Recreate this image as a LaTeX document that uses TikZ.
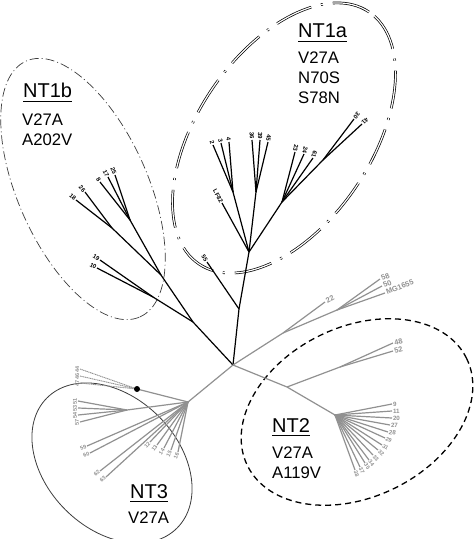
\documentclass[tikz,border=0pt]{standalone}
\usepackage{fontspec}
\setmainfont{Liberation Sans}
\usetikzlibrary{positioning}
\definecolor{treegray}{RGB}{145,145,145}
\definecolor{ringgray}{RGB}{60,60,60}
\tikzset{
	blackbranch/.style={line width=1.2pt, black},
	graybranch/.style={line width=1.2pt, treegray},
	tinybranch/.style={line width=0.9pt, treegray, dash pattern=on 1.2pt off 0.6pt},
	blackleaf/.style={font=\bfseries\fontsize{6}{6}\selectfont, inner sep=0.4pt},
	grayleaf/.style={font=\bfseries\fontsize{5.5}{5.5}\selectfont, inner sep=0.4pt, text=treegray},
	fanleaf/.style={font=\bfseries\fontsize{6.2}{6.2}\selectfont, inner sep=0.4pt, text=treegray},
	refleaf/.style={font=\bfseries\fontsize{7.5}{7.5}\selectfont, inner sep=1pt, text=treegray},
	typename/.style={font=\fontsize{20}{20}\selectfont, inner sep=0pt, anchor=base west},
	mutation/.style={font=\fontsize{16.7}{16.7}\selectfont, inner sep=0pt, anchor=base west},
	underline/.style={line width=1.3pt},
}
\begin{document}
\begin{tikzpicture}[x=1pt,y=-1pt]
\useasboundingbox (0,0) rectangle (474,539);

%Cluster rings
\draw[ringgray, line width=0.7pt, dash pattern=on 9pt off 3pt on 1pt off 3pt,
	rotate around={-66:(83,189)}] (83,189) ellipse [x radius=140pt, y radius=65pt];
\draw[black, line width=0.7pt, double, double distance=1.2pt,
	dash pattern=on 38pt off 10pt on 2pt off 10pt,
	rotate around={56:(284,138)}] (284,138) ellipse [x radius=152pt, y radius=87pt];
\draw[black, line width=1.3pt, dash pattern=on 6pt off 4pt,
	rotate around={26:(357,412)}] (357,412) ellipse [x radius=122pt, y radius=85pt];
\draw[ringgray, line width=0.8pt,
	rotate around={-45:(112,463)}] (112,463) ellipse [x radius=92pt, y radius=66pt];

%NT1 trunk
\coordinate (root) at (233,365);
\coordinate (nt1stem) at (239,309);
\coordinate (nt1ahub) at (249,252);
\coordinate (l55) at (207,262);
\draw[blackbranch] (root) -- (nt1stem) -- (nt1ahub);
\draw[blackbranch] (nt1stem) -- (l55) node[blackleaf,anchor=east,rotate=-56]{55};

%NT1a leaves
\coordinate (lLF) at (222,203);
\draw[blackbranch] (nt1ahub) -- (lLF) node[blackleaf,anchor=east,rotate=-61]{LF82};
\coordinate (ja) at (233,192);
\coordinate (l2) at (213,145);
\coordinate (l3) at (221,143);
\coordinate (l4) at (229,142);
\draw[blackbranch] (nt1ahub) -- (ja);
\draw[blackbranch] (ja) -- (l2) node[blackleaf,anchor=east,rotate=-72]{2};
\draw[blackbranch] (ja) -- (l3) node[blackleaf,anchor=east,rotate=-78]{3};
\draw[blackbranch] (ja) -- (l4) node[blackleaf,anchor=east,rotate=-84]{4};
\coordinate (jb) at (256,192);
\coordinate (l36) at (252,140);
\coordinate (l39) at (260,140);
\coordinate (l45) at (268,142);
\draw[blackbranch] (nt1ahub) -- (jb);
\draw[blackbranch] (jb) -- (l36) node[blackleaf,anchor=east,rotate=-88]{36};
\draw[blackbranch] (jb) -- (l39) node[blackleaf,anchor=east,rotate=-92]{39};
\draw[blackbranch] (jb) -- (l45) node[blackleaf,anchor=east,rotate=-98]{45};
\coordinate (jc) at (282,202);
\coordinate (l23) at (295,152);
\coordinate (l24) at (304,154);
\coordinate (l61) at (313,158);
\draw[blackbranch] (nt1ahub) -- (jc);
\draw[blackbranch] (jc) -- (l23) node[blackleaf,anchor=east,rotate=-100]{23};
\draw[blackbranch] (jc) -- (l24) node[blackleaf,anchor=east,rotate=-104]{24};
\draw[blackbranch] (jc) -- (l61) node[blackleaf,anchor=east,rotate=-108]{61};
\coordinate (jd) at (323,160);
\coordinate (l30) at (354,119);
\coordinate (l41) at (362,124);
\draw[blackbranch] (jc) -- (jd);
\draw[blackbranch] (jd) -- (l30) node[blackleaf,anchor=east,rotate=-129]{30};
\draw[blackbranch] (jd) -- (l41) node[blackleaf,anchor=east,rotate=-136]{41};

%NT1b leaves
\coordinate (nt1bstem) at (193,322);
\coordinate (nt1bhub) at (161,275);
\draw[blackbranch] (root) -- (nt1bstem) -- (nt1bhub);
\coordinate (je) at (130,220);
\coordinate (l25) at (115,175);
\coordinate (l17) at (108,177);
\coordinate (l8) at (100,182);
\draw[blackbranch] (nt1bhub) -- (je);
\draw[blackbranch] (je) -- (l25) node[blackleaf,anchor=east,rotate=-69]{25};
\draw[blackbranch] (je) -- (l17) node[blackleaf,anchor=east,rotate=-63]{17};
\draw[blackbranch] (je) -- (l8) node[blackleaf,anchor=east,rotate=-54]{8};
\coordinate (jf) at (112,228);
\coordinate (l26) at (85,192);
\coordinate (l18) at (76,200);
\draw[blackbranch] (nt1bhub) -- (jf);
\draw[blackbranch] (jf) -- (l26) node[blackleaf,anchor=east,rotate=-49]{26};
\draw[blackbranch] (jf) -- (l18) node[blackleaf,anchor=east,rotate=-40]{18};
\coordinate (jg) at (153,297);
\coordinate (l19) at (100,260);
\coordinate (l10) at (97,268);
\draw[blackbranch] (nt1bstem) -- (jg);
\draw[blackbranch] (jg) -- (l19) node[blackleaf,anchor=east,rotate=-30]{19};
\draw[blackbranch] (jg) -- (l10) node[blackleaf,anchor=east,rotate=-28]{10};

%Reference strains
\coordinate (jh) at (283,333);
\coordinate (l22) at (325,302);
\draw[graybranch] (root) -- (jh);
\draw[graybranch] (jh) -- (l22) node[refleaf,anchor=west,rotate=30]{22};
\coordinate (ji) at (337,310);
\coordinate (l58) at (380,279);
\coordinate (l50) at (382,286);
\coordinate (lMG) at (385,293);
\draw[graybranch] (jh) -- (ji);
\draw[graybranch] (ji) -- (l58) node[refleaf,anchor=west,rotate=22]{58};
\draw[graybranch] (ji) -- (l50) node[refleaf,anchor=west,rotate=22]{50};
\draw[graybranch] (ji) -- (lMG) node[refleaf,anchor=west,rotate=22]{MG1655};

%NT2 leaves
\coordinate (nt2stem) at (287,387);
\coordinate (nt2hub) at (335,415);
\draw[graybranch] (root) -- (nt2stem) -- (nt2hub);
\coordinate (jj) at (340,367);
\coordinate (l48) at (393,343);
\coordinate (l52) at (393,351);
\draw[graybranch] (nt2stem) -- (jj);
\draw[graybranch] (jj) -- (l48) node[refleaf,anchor=west,rotate=15]{48};
\draw[graybranch] (jj) -- (l52) node[refleaf,anchor=west,rotate=15]{52};
\coordinate (l9) at (392,404);
\coordinate (l11) at (392,411);
\coordinate (l20) at (392,418);
\coordinate (l27) at (390,425);
\coordinate (l28) at (388,432);
\coordinate (l29) at (385,438);
\coordinate (l31) at (382,445);
\coordinate (l32) at (378,450);
\coordinate (l33) at (373,455);
\coordinate (l34) at (369,460);
\coordinate (l35) at (365,463);
\coordinate (l37) at (360,467);
\coordinate (l38) at (355,470);
\draw[graybranch] (nt2hub) -- (l9) node[fanleaf,anchor=west]{9};
\draw[graybranch] (nt2hub) -- (l11) node[fanleaf,anchor=west]{11};
\draw[graybranch] (nt2hub) -- (l20) node[fanleaf,anchor=west]{20};
\draw[graybranch] (nt2hub) -- (l27) node[fanleaf,anchor=west]{27};
\draw[graybranch] (nt2hub) -- (l28) node[fanleaf,anchor=west,rotate=-10]{28};
\draw[graybranch] (nt2hub) -- (l29) node[grayleaf,anchor=west,rotate=-25]{29};
\draw[graybranch] (nt2hub) -- (l31) node[grayleaf,anchor=west,rotate=-32]{31};
\draw[graybranch] (nt2hub) -- (l32) node[grayleaf,anchor=west,rotate=-39]{32};
\draw[graybranch] (nt2hub) -- (l33) node[grayleaf,anchor=west,rotate=-46]{33};
\draw[graybranch] (nt2hub) -- (l34) node[grayleaf,anchor=west,rotate=-53]{34};
\draw[graybranch] (nt2hub) -- (l35) node[grayleaf,anchor=west,rotate=-58]{35};
\draw[graybranch] (nt2hub) -- (l37) node[grayleaf,anchor=west,rotate=-64]{37};
\draw[graybranch] (nt2hub) -- (l38) node[grayleaf,anchor=west,rotate=-70]{38};

%NT3 leaves
\coordinate (nt3hub) at (188,402);
\coordinate (nt3dot) at (137,389);
\draw[graybranch] (root) -- (nt3hub) -- (nt3dot);
\coordinate (t1) at (80,369);
\coordinate (t2) at (80,376);
\coordinate (t3) at (80,383);
\draw[tinybranch] (nt3dot) -- (t1) node[grayleaf,anchor=south,rotate=90]{44};
\draw[tinybranch] (nt3dot) -- (t2) node[grayleaf,anchor=south,rotate=90]{46};
\draw[tinybranch] (nt3dot) -- (t3) node[grayleaf,anchor=south,rotate=90]{47};
\fill (nt3dot) circle (3pt);
\coordinate (jk) at (127,410);
\coordinate (s1) at (78,401);
\coordinate (s2) at (78,408);
\coordinate (s3) at (78,415);
\coordinate (s4) at (80,422);
\draw[graybranch] (nt3hub) -- (jk);
\draw[graybranch] (jk) -- (s1) node[grayleaf,anchor=south,rotate=90]{51};
\draw[graybranch] (jk) -- (s2) node[grayleaf,anchor=south,rotate=90]{53};
\draw[graybranch] (jk) -- (s3) node[grayleaf,anchor=south,rotate=90]{54};
\draw[graybranch] (jk) -- (s4) node[grayleaf,anchor=south,rotate=90]{57};
\coordinate (u1) at (87,446);
\coordinate (u2) at (90,453);
\draw[graybranch] (nt3hub) -- (u1) node[grayleaf,anchor=east,rotate=23]{59};
\draw[graybranch] (nt3hub) -- (u2) node[grayleaf,anchor=east,rotate=23]{60};
\coordinate (v1) at (100,471);
\coordinate (v2) at (106,477);
\draw[graybranch] (nt3hub) -- (v1) node[grayleaf,anchor=east,rotate=38]{62};
\draw[graybranch] (nt3hub) -- (v2) node[grayleaf,anchor=east,rotate=38]{63};
\coordinate (w1) at (150,442);
\coordinate (w2) at (157,445);
\coordinate (w3) at (164,448);
\coordinate (w4) at (171,450);
\coordinate (w5) at (178,452);
\draw[graybranch] (nt3hub) -- (w1) node[grayleaf,anchor=east,rotate=47]{12};
\draw[graybranch] (nt3hub) -- (w2) node[grayleaf,anchor=east,rotate=52]{13};
\draw[graybranch] (nt3hub) -- (w3) node[grayleaf,anchor=east,rotate=57]{14};
\draw[graybranch] (nt3hub) -- (w4) node[grayleaf,anchor=east,rotate=62]{15};
\draw[graybranch] (nt3hub) -- (w5) node[grayleaf,anchor=east,rotate=67]{16};

%Cluster names
\node [typename] (nt1bname) at (23,97) {NT1b};
\draw[underline] ([yshift=-4.5pt]nt1bname.base west) -- ([yshift=-4.5pt]nt1bname.base east);
\node [mutation] (nt1bm1) at (22,125) {V27A};
\node [mutation] (nt1bm2) at (22,145) {A202V};

\node [typename] (nt1aname) at (298,37) {NT1a};
\draw[underline] ([yshift=-4.5pt]nt1aname.base west) -- ([yshift=-4.5pt]nt1aname.base east);
\node [mutation] (nt1am1) at (298,63) {V27A};
\node [mutation] (nt1am2) at (298,83) {N70S};
\node [mutation] (nt1am3) at (298,103) {S78N};

\node [typename] (nt2name) at (272,432) {NT2};
\draw[underline] ([yshift=-3.5pt]nt2name.base west) -- ([yshift=-3.5pt]nt2name.base east);
\node [mutation] (nt2m1) at (272,458) {V27A};
\node [mutation] (nt2m2) at (272,478) {A119V};

\node [typename] (nt3name) at (130,498) {NT3};
\draw[underline] ([yshift=-3.5pt]nt3name.base west) -- ([yshift=-3.5pt]nt3name.base east);
\node [mutation] (nt3m1) at (128,523) {V27A};

\end{tikzpicture}
\end{document}
